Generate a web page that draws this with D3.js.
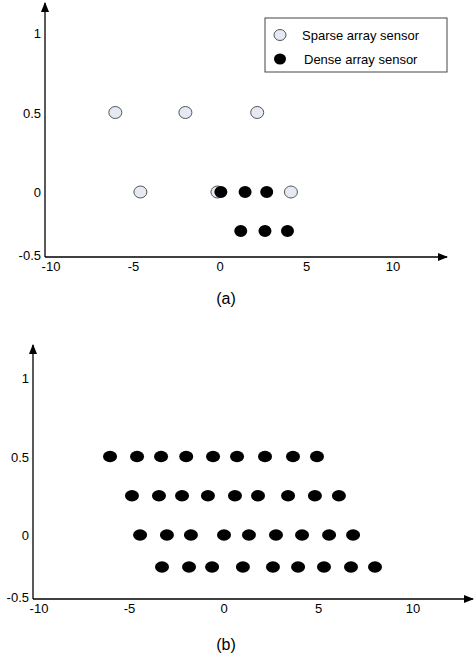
<!DOCTYPE html>
<html><head><meta charset="utf-8">
<script src="https://cdn.jsdelivr.net/npm/d3@7"></script>
<style>body{margin:0;background:#fff}text{font-family:"Liberation Sans",Arial,sans-serif}</style>
</head><body><svg id="c" width="474" height="657"></svg>
<script>
// panel (a)
var sparseX = [-6.05, -2.0, 2.15, -4.6, -0.15, 4.1];
var sparseY = [0.5, 0.5, 0.5, 0, 0, 0];
var denseX = [0.05, 1.45, 2.7, 1.2, 2.6, 3.9];
var denseY = [0, 0, 0, -0.3, -0.3, -0.3];
// panel (b)
var rowsY = [0.5, 0.25, 0, -0.25];
var rowsX = [
  [-6.03, -4.6, -3.33, -2.0, -0.58, 0.69, 2.17, 3.65, 4.92],
  [-4.87, -3.44, -2.22, -0.85, 0.58, 1.8, 3.39, 4.81, 6.08],
  [-4.44, -3.02, -1.75, 0, 1.32, 2.75, 4.13, 5.56, 6.83],
  [-3.28, -1.85, -0.63, 1.0, 2.59, 3.92, 5.29, 6.72, 7.99]
];
var xTicks = [-10, -5, 0, 5, 10];
var yTicks = [-0.5, 0, 0.5, 1];
var legendLabels = ["Sparse array sensor", "Dense array sensor"];

var svg = d3.select("#c");
svg.append("defs").append("marker").attr("id", "arr").attr("viewBox", "0 0 10 10")
  .attr("refX", 9).attr("refY", 5).attr("markerWidth", 8).attr("markerHeight", 8)
  .attr("orient", "auto").append("path").attr("d", "M0,1L10,5L0,9z").attr("fill", "#000");

function panel(o) {
  var x = d3.scaleLinear().domain([-10, 10]).range([o.x0, o.x10]);
  var y = d3.scaleLinear().domain([-0.5, 0, 1]).range([o.yb, o.y0, o.y1]);
  var g = svg.append("g");
  g.append("line").attr("x1", o.ax).attr("y1", o.yb).attr("x2", o.ax).attr("y2", o.top)
    .attr("stroke", "#000").attr("stroke-width", 1.3).attr("marker-end", "url(#arr)");
  g.append("line").attr("x1", o.ax).attr("y1", o.yb).attr("x2", o.right).attr("y2", o.yb)
    .attr("stroke", "#000").attr("stroke-width", 1.3).attr("marker-end", "url(#arr)");
  g.selectAll(".xt").data(xTicks).enter().append("text")
    .attr("x", function (d) { return x(d) + (d === -10 ? 4 : 0); }).attr("y", o.yb + 14)
    .attr("text-anchor", "middle").attr("font-size", 13).text(function (d) { return d; });
  g.selectAll(".yt").data(yTicks).enter().append("text")
    .attr("x", o.ax - 4).attr("y", function (d) { return (d === -0.5 ? o.yb - 2 : y(d)) + 5; })
    .attr("text-anchor", "end").attr("font-size", 13).text(function (d) { return d; });
  g.append("text").attr("x", o.cap[0]).attr("y", o.cap[1]).attr("text-anchor", "middle")
    .attr("font-family", "Liberation Serif").attr("font-size", 16).text(o.label);
  return { g: g, x: x, y: y };
}

var a = panel({ x0: 47, x10: 393, ax: 45, yb: 257, y0: 192, y1: 33, top: 3, right: 447, cap: [226, 304], label: "(a)" });
a.g.selectAll(".sp").data(sparseX).enter().append("ellipse")
  .attr("cx", function (d) { return a.x(d); }).attr("cy", function (d, i) { return a.y(sparseY[i]); })
  .attr("rx", 6.5).attr("ry", 6).attr("fill", "#e4e9f3").attr("stroke", "#555");
a.g.selectAll(".dn").data(denseX).enter().append("ellipse")
  .attr("cx", function (d) { return a.x(d); }).attr("cy", function (d, i) { return a.y(denseY[i]); })
  .attr("rx", 6.5).attr("ry", 6).attr("fill", "#000");
a.g.append("rect").attr("x", 265).attr("y", 18).attr("width", 182).attr("height", 54)
  .attr("fill", "#fff").attr("stroke", "#444");
legendLabels.forEach(function (t, i) {
  a.g.append("ellipse").attr("cx", 280).attr("cy", 35 + i * 24).attr("rx", 6).attr("ry", 5.5)
    .attr("fill", i ? "#000" : "#e4e9f3").attr("stroke", i ? "none" : "#555");
  a.g.append("text").attr("x", 302 + i * 2).attr("y", 40 + i * 24).attr("font-size", 13).text(t);
});

var b = panel({ x0: 35, x10: 413, ax: 33, yb: 599, y0: 535, y1: 378, top: 345, right: 473, cap: [226, 650], label: "(b)" });
rowsX.forEach(function (row, r) {
  b.g.selectAll(".r" + r).data(row).enter().append("ellipse")
    .attr("cx", function (d) { return b.x(d); }).attr("cy", b.y(rowsY[r]))
    .attr("rx", 7).attr("ry", 5.8).attr("fill", "#000");
});
</script></body></html>
